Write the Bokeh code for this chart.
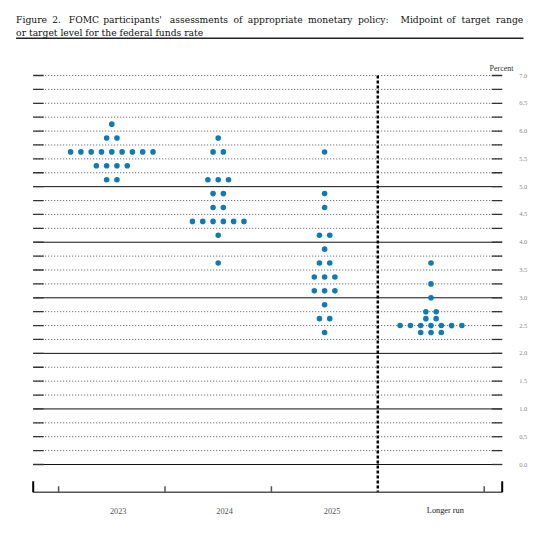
import numpy as np
from bokeh.plotting import figure
from bokeh.models import Range1d
from bokeh.core.properties import value
from bokeh.embed import file_html
from bokeh.resources import INLINE

# ---------------- data ----------------
categories = ["2023", "2024", "2025", "Longer run"]

levels_2023 = [6.125, 5.875, 5.625, 5.375, 5.125]
counts_2023 = [1, 2, 9, 4, 2]

levels_2024 = [5.875, 5.625, 5.125, 4.875, 4.625, 4.375, 4.125, 3.625]
counts_2024 = [1, 2, 3, 2, 2, 6, 1, 1]

levels_2025 = [5.625, 4.875, 4.625, 4.125, 3.875, 3.625, 3.375, 3.125, 2.875, 2.625, 2.375]
counts_2025 = [1, 1, 1, 2, 1, 2, 3, 3, 1, 2, 1]

levels_lr = [3.625, 3.25, 3.0, 2.75, 2.625, 2.5, 2.375]
counts_lr = [1, 1, 1, 2, 2, 7, 3]

y_tick_values = [0.0, 0.5, 1.0, 1.5, 2.0, 2.5, 3.0, 3.5, 4.0, 4.5, 5.0, 5.5, 6.0, 6.5, 7.0]
y_tick_labels = ["0.0", "0.5", "1.0", "1.5", "2.0", "2.5", "3.0", "3.5", "4.0",
                 "4.5", "5.0", "5.5", "6.0", "6.5", "7.0"]
solid_levels = [0.0, 1.0, 2.0, 3.0, 4.0, 5.0]

title_line1_words = ["Figure", "2.", "FOMC", "participants'", "assessments", "of",
                     "appropriate", "monetary", "policy:", "Midpoint", "of", "target"]
title_line1_last = "range"
title_line2 = "or target level for the federal funds rate"

# ---------------- layout ----------------
W, H = 539, 519
OFF = 0
X0, XS = 111.3, 106.4      # page px of category 0, px per category
Y0, YS = 464.0, 55.57      # page px of 0 percent, px per percent
# left edges (page px) of the justified first title line's words
title_word_px = [15.6, 51.7, 68.3, 102.7, 169.3, 233.0, 247.2, 307.6, 357.4, 400.0,
                 446.0, 461.0]
title_right_px = 522.7


def dx(px):  # page pixel x -> data x
    return (px - X0) / XS


def dy(py):  # page pixel y -> data y
    return (Y0 - py) / YS


p = figure(width=W, height=H, output_backend="svg", toolbar_location=None,
           x_range=Range1d(dx(OFF), dx(OFF + W)), y_range=Range1d(dy(OFF + H), dy(OFF)),
           x_axis_location=None, y_axis_location=None, title_location=None,
           min_border=0, outline_line_color=None)
p.xgrid.visible = False
p.ygrid.visible = False
p.background_fill_color = "white"

SERIF = value("Liberation Serif")
TSERIF = value("DejaVu Serif")
TSIZE = "9.2px"

# title and rule
p.text(x=[dx(v) for v in title_word_px], y=dy(18.5), text=title_line1_words, text_font=TSERIF,
       text_font_size=TSIZE, text_baseline="alphabetic", text_align="left", text_color="#111")
p.text(x=[dx(title_right_px)], y=[dy(18.5)], text=[title_line1_last], text_font=TSERIF,
       text_font_size=TSIZE, text_baseline="alphabetic", text_align="right", text_color="#111")
p.text(x=[dx(15.6)], y=[dy(31.5)], text=[title_line2], text_font=TSERIF,
       text_font_size=TSIZE, text_baseline="alphabetic", text_align="left", text_color="#111")
p.segment(x0=[dx(15.6)], x1=[dx(523)], y0=[dy(37.8)], y1=[dy(37.8)],
          line_color="#222", line_width=1.6)

# horizontal lines
xl, xr = dx(32.7), dx(501.7)
all_levels = np.arange(0, 7.001, 0.25)
dotted = [l for l in all_levels if l not in solid_levels]
p.segment(x0=xl, x1=xr, y0=dotted, y1=dotted, line_color="#555", line_width=1,
          line_dash="1 2")
p.segment(x0=xl, x1=xr, y0=solid_levels, y1=solid_levels, line_color="#111", line_width=1)
cap = 10.5 / XS
p.segment(x0=xl, x1=xl + cap, y0=all_levels, y1=all_levels, line_color="#333", line_width=1.3)
p.segment(x0=xr - cap, x1=xr, y0=all_levels, y1=all_levels, line_color="#333", line_width=1.3)

# vertical dashed separator
p.segment(x0=[2.5], x1=[2.5], y0=[7.0], y1=[-0.5], line_color="black", line_width=2.5,
          line_dash="3 2")

# bottom axis
ax_y = -0.5
p.segment(x0=[xl], x1=[xr], y0=[ax_y], y1=[ax_y], line_color="#555", line_width=1.5)
tick_x = [-0.5, 0.5, 1.5, 3.5]
p.segment(x0=tick_x, x1=tick_x, y0=ax_y, y1=ax_y + 6 / YS, line_color="#555", line_width=1.5)
p.segment(x0=[xl, xr], x1=[xl, xr], y0=ax_y, y1=ax_y + 11 / YS, line_color="black",
          line_width=2)

# category labels
label_nudge = [0.06, 0.06, 0.07, 0.135]
label_colors = ["#555", "#555", "#555", "#222"]
p.text(x=[i + n for i, n in enumerate(label_nudge)], y=dy(510), text=categories,
       text_font=SERIF, text_font_size="8.3px", text_align="center", text_baseline="middle",
       text_color=label_colors)

# y tick labels
p.text(x=dx(522.7), y=y_tick_values, text=y_tick_labels, text_font=SERIF,
       text_font_size="6.5px", text_align="center", text_baseline="middle", text_color="#888")
p.text(x=[dx(501)], y=[dy(68.3)], text=["Percent"], text_font=SERIF, text_font_size="8px",
       text_align="center", text_baseline="middle", text_color="#333")

# dots
spacing = 10.3 / XS
xs, ys = [], []
for ci, (lv, ct) in enumerate([(levels_2023, counts_2023), (levels_2024, counts_2024),
                               (levels_2025, counts_2025), (levels_lr, counts_lr)]):
    for l, c in zip(lv, ct):
        for k in range(c):
            xs.append(ci + (k - (c - 1) / 2) * spacing)
            ys.append(l)
p.scatter(x=xs, y=ys, size=5.6, fill_color="#0f7bb6", line_color=None)

open("out.html", "w").write(file_html(p, INLINE))
